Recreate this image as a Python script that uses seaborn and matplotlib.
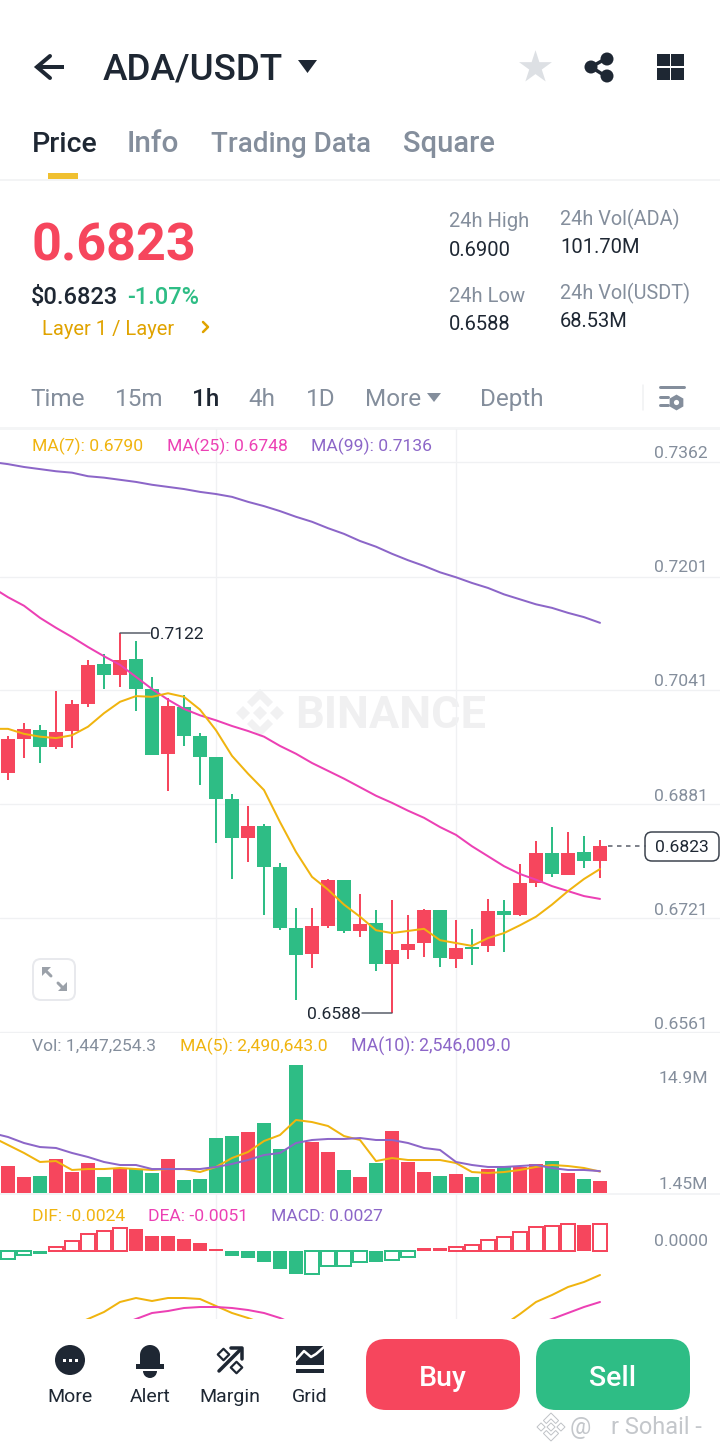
import matplotlib
matplotlib.use('Agg')
import matplotlib.pyplot as plt
from matplotlib.patches import Circle, FancyBboxPatch, Polygon, Rectangle, Wedge
import numpy as np
import seaborn as sns

# candles, oldest first
opens = [.6925, .6973, .6985, .6962, .6984, .7022, .7078, .7063, .7085, .7043, .6952, .7018, .6977, .6947, .6888, .6834, .6850, .6793, .6707, .6671, .6710, .6775, .6703, .6714, .6657, .6676, .6686, .6732, .6664, .6680, .6682, .6731, .6725, .6770, .6812, .6782, .6814, .6801]
highs = [.6977, .6995, .6992, .7040, .7028, .7084, .7092, .7122, .7110, .7060, .7030, .7035, .6981, .6947, .6895, .6879, .6853, .6799, .6735, .6735, .6776, .6775, .6755, .6732, .6746, .6725, .6734, .6732, .6718, .6706, .6748, .6746, .6797, .6829, .6849, .6842, .6836, .6831]
lows = [.6915, .6946, .6939, .6959, .6960, .7018, .7043, .7046, .7012, .6950, .6900, .6963, .6908, .6827, .6776, .6800, .6725, .6704, .6606, .6651, .6707, .6700, .6695, .6647, .6588, .6664, .6666, .6652, .6651, .6655, .6673, .6673, .6724, .6765, .6779, .6782, .6792, .6777]
closes = [.6973, .6987, .6962, .6983, .7022, .7077, .7063, .7084, .7043, .6950, .7019, .6977, .6947, .6888, .6834, .6850, .6793, .6707, .6669, .6710, .6775, .6703, .6713, .6657, .6676, .6685, .6732, .6665, .6679, .6678, .6731, .6725, .6770, .6812, .6783, .6812, .6801, .6823]

# moving averages start one candle before the left edge
ma7 = [.6987, .6987, .6980, .6976, .6974, .6978, .6990, .7009, .7025, .7033, .7032, .7037, .7032, .7014, .6985, .6949, .6924, .6901, .6856, .6814, .6779, .6761, .6740, .6723, .6704, .6700, .6703, .6706, .6690, .6686, .6682, .6693, .6700, .6711, .6723, .6740, .6759, .6776, .6790]
ma25 = [.7186, .7172, .7160, .7143, .7129, .7116, .7102, .7089, .7077, .7060, .7043, .7028, .7015, .7006, .6999, .6991, .6984, .6976, .6963, .6952, .6939, .6928, .6917, .6905, .6893, .6883, .6872, .6862, .6849, .6838, .6822, .6808, .6794, .6783, .6775, .6766, .6759, .6752, .6748]
ma99 = [.7362, .7359, .7355, .7352, .7349, .7347, .7342, .7340, .7337, .7334, .7330, .7327, .7324, .7320, .7317, .7313, .7306, .7300, .7293, .7285, .7278, .7269, .7261, .7251, .7243, .7233, .7224, .7216, .7207, .7200, .7192, .7185, .7176, .7169, .7162, .7157, .7150, .7144, .7136]

price_ticks = [.7362, .7201, .7041, .6881, .6721, .6561]

# volume in millions
volumes = [3.14, 1.86, 1.98, 3.96, 2.44, 3.49, 1.86, 2.79, 2.79, 2.33, 3.96, 1.51, 1.63, 6.40, 6.64, 7.10, 8.15, 5.12, 14.9, 5.94, 4.77, 2.68, 1.86, 3.49, 7.22, 3.61, 2.44, 1.98, 2.21, 1.86, 2.79, 3.03, 3.03, 3.38, 3.73, 2.33, 1.63, 1.447]
vol_ma5 = [6.52, 5.59, 4.66, 3.61, 3.72, 2.68, 2.79, 2.79, 2.91, 2.79, 2.68, 2.79, 2.79, 2.44, 3.03, 4.07, 4.77, 6.05, 6.75, 8.50, 8.26, 7.80, 6.63, 6.17, 3.72, 4.07, 3.84, 3.84, 3.84, 3.49, 2.44, 2.33, 2.44, 2.68, 3.03, 3.26, 3.14, 2.91, 2.49]
vol_ma10 = [6.98, 6.52, 5.82, 5.35, 5.24, 4.66, 4.19, 3.61, 3.26, 3.26, 2.79, 2.79, 2.79, 2.79, 3.03, 3.38, 3.84, 4.42, 4.66, 5.82, 6.17, 6.29, 6.29, 6.40, 6.17, 6.17, 5.82, 5.24, 5.01, 3.61, 3.26, 3.03, 3.03, 3.14, 3.26, 2.91, 2.68, 2.68, 2.546]

macd = [-.0008, -.00035, -.00027, .0004, .0010, .0017, .0020, .0023, .0022, .0015, .0015, .0012, .0008, .00025, -.00045, -.0007, -.0011, -.0018, -.0023, -.0023, -.0015, -.0015, -.0011, -.0011, -.0009, -.0006, .0003, .0003, .0004, .0006, .0011, .0014, .0019, .0024, .0025, .0027, .0026, .0027]
macd_hollow = [1, 1, 0, 1, 1, 1, 1, 1, 0, 0, 0, 0, 0, 0, 0, 0, 0, 0, 0, 1, 1, 1, 1, 0, 1, 1, 0, 0, 1, 1, 1, 1, 1, 1, 1, 1, 0, 1]

# only these stretches of DIF and DEA show inside the pane
dif_idx_a = [4, 5, 6, 7, 8, 9, 10, 11, 12, 13, 14, 15, 16]
dif_a = [-.0075, -.0068, -.0061, -.0051, -.0047, -.0050, -.0047, -.0047, -.0048, -.0055, -.0062, -.0067, -.0073]
dif_idx_b = [31, 32, 33, 34, 35, 36, 37]
dif_b = [-.0074, -.0063, -.0051, -.0044, -.0036, -.0031, -.0024]
dea_idx_a = [7, 8, 9, 10, 11, 12, 13, 14, 15, 16, 17, 18]
dea_a = [-.0074, -.0068, -.0062, -.0060, -.0057, -.0056, -.0056, -.0057, -.0059, -.0062, -.0067, -.0074]
dea_idx_b = [33, 34, 35, 36, 37]
dea_b = [-.0074, -.0068, -.0062, -.0056, -.0051]

RED = '#F6465D'
GREEN = '#2EBD85'
YELLOW = '#F0B40F'
PINK = '#EC40B4'
PURPLE = '#8C66C8'
DARK = '#1E2733'
GRAY = '#848E9C'
GRID = '#F0F1F3'

W, H = 720, 1448
PX = 72 / 100  # one pixel in points

sns.set_theme(style='white')
plt.rcParams['font.family'] = ['Roboto', 'DejaVu Sans']

fig = plt.figure(figsize=(W / 100, H / 100), dpi=100, facecolor='white')

# pixel space for all the app chrome
ui = fig.add_axes([0, 0, 1, 1], zorder=0)
ui.set_xlim(0, W)
ui.set_ylim(H, 0)
ui.axis('off')

# captions go over the grid lines
top = fig.add_axes([0, 0, 1, 1], zorder=2)
top.set_xlim(0, W)
top.set_ylim(H, 0)
top.axis('off')


def pane(y0, y1, ylim, yticks=()):
    ax = fig.add_axes([0, 1 - y1 / H, 1, (y1 - y0) / H], zorder=1)
    ax.patch.set_alpha(0)
    sns.despine(ax=ax, left=True, bottom=True)
    ax.set_xlim(-0.5, 44.5)
    ax.set_ylim(*ylim)
    ax.set_xticks([13, 28])
    ax.set_yticks(list(yticks))
    ax.set_xticklabels([])
    ax.set_yticklabels([])
    ax.tick_params(length=0)
    ax.grid(True, color=GRID, lw=1.3 * PX)
    ax.set_axisbelow(True)
    return ax


def label(x, y, s, color=DARK, size=12.5, weight='normal', ha='left', **kw):
    return top.text(x, y + 1.5, s, color=color, fontsize=size, fontweight=weight, ha=ha, va='center', **kw)


def logo(cx, cy, r, color, fill=True):
    # five piece diamond mark
    s = r / 24
    pieces = [
        [(0, -7), (7, 0), (0, 7), (-7, 0)],
        [(-24, 0), (-17, -7), (-10, 0), (-17, 7)],
        [(24, 0), (17, -7), (10, 0), (17, 7)],
        [(0, -24), (13, -11), (8, -6), (0, -14), (-8, -6), (-13, -11)],
        [(0, 24), (13, 11), (8, 6), (0, 14), (-8, 6), (-13, 11)],
    ]
    for p in pieces:
        pts = [(cx + a * s, cy + b * s) for a, b in p]
        ui.add_patch(Polygon(pts, closed=True, fc=color if fill else 'none', ec=color, lw=0.7 if not fill else 0))


# header
ui.plot([36, 64], [67, 67], color=DARK, lw=4 * PX, solid_capstyle='butt')
ui.plot([50, 37, 50], [56, 67, 78], color=DARK, lw=4 * PX, solid_joinstyle='miter')
label(103, 69, 'ADA/USDT', size=26.6, weight='medium')
ui.add_patch(Polygon([(298, 60), (317, 60), (307.5, 73)], fc=DARK, lw=0))
ui.scatter([535], [67], marker='*', s=620, color='#DDE0E4', lw=0)
ui.plot([607, 591, 607], [58, 67, 77], color=DARK, lw=3.5 * PX)
for cx, cy, r in [(607, 59, 6.5), (591, 67, 6.5), (607, 76, 6.5)]:
    ui.add_patch(Circle((cx, cy), r, fc=DARK, lw=0))
for x0, y0 in [(657, 54), (671, 54), (657, 68), (671, 68)]:
    ui.add_patch(Rectangle((x0, y0), 13, 12, fc=DARK, lw=0))

# tabs
label(32, 143, 'Price', size=20.5, weight='medium')
label(127, 143, 'Info', color=GRAY, size=21.5, weight='medium')
label(211, 143, 'Trading Data', color=GRAY, size=20, weight='medium')
label(403, 143, 'Square', color=GRAY, size=21, weight='medium')
ui.add_patch(Rectangle((48, 173), 30, 6, fc='#F0C030', lw=0))
ui.plot([0, W], [179.5, 179.5], color=GRID, lw=1.5 * PX)

# price block
label(32, 245, '0.6823', color=RED, size=37.5, weight='bold')
label(31, 296, '$0.6823', size=17, weight='medium')
label(127, 296, '-1.07%', color=GREEN, size=17, weight='medium')
label(42, 328, 'Layer 1 / Layer', color='#E0A300', size=14.5)
ui.plot([203, 208, 203], [322, 327, 332], color='#E0A300', lw=2.5 * PX)
label(449, 220, '24h High', color=GRAY, size=14.5)
label(449, 249, '0.6900', size=14.5)
label(560, 218, '24h Vol(ADA)', color=GRAY, size=14.3)
label(560, 246, '101.70M', size=14.5)
label(449, 295, '24h Low', color=GRAY, size=14.5)
label(449, 323, '0.6588', size=14.5)
label(560, 292, '24h Vol(USDT)', color=GRAY, size=14.3)
label(560, 320, '68.53M', size=14.5)

# interval bar
for x, s, c in [(30, 'Time', GRAY), (115, '15m', GRAY), (192, '1h', DARK), (248, '4h', GRAY),
                (306, '1D', GRAY), (365, 'More', GRAY), (480, 'Depth', GRAY)]:
    label(x, 398, s, color=c, size=17.5, weight='medium' if s == '1h' else 'normal')
ui.add_patch(Polygon([(427, 393), (441, 393), (434, 402)], fc=GRAY, lw=0))
ui.plot([642.5, 642.5], [385, 410], color=GRID, lw=1.5 * PX)
ui.plot([660, 684], [387, 387], color=GRAY, lw=3 * PX)
ui.plot([660, 668], [397, 397], color=GRAY, lw=3 * PX)
ui.plot([660, 668], [405, 405], color=GRAY, lw=3 * PX)
ui.scatter([676], [402], marker='h', s=130, color=GRAY, lw=0)
ui.scatter([676], [402], marker='o', s=14, color='white', lw=0)
ui.add_patch(Rectangle((0, 427), W, 3, fc='#F4F5F6', lw=0))

# indicator captions
label(32, 445, 'MA(7): 0.6790', color=YELLOW, size=12.6)
label(167, 445, 'MA(25): 0.6748', color=PINK, size=12.6)
label(311, 445, 'MA(99): 0.7136', color=PURPLE, size=12.6)
label(32, 1045, 'Vol: 1,447,254.3', color=GRAY, size=12.6)
label(180, 1045, 'MA(5): 2,490,643.0', color=YELLOW, size=12.6)
label(351, 1045, 'MA(10): 2,546,009.0', color=PURPLE, size=12.8)
label(32, 1215, 'DIF: -0.0024', color=YELLOW, size=12.6)
label(148, 1215, 'DEA: -0.0051', color=PINK, size=12.6)
label(271, 1215, 'MACD: 0.0027', color=PURPLE, size=12.6)

# axis captions
for y, s in [(452, '0.7362'), (566, '0.7201'), (680, '0.7041'), (795, '0.6881'), (909, '0.6721'), (1023, '0.6561')]:
    label(708, y, s, color=GRAY, size=12.6, ha='right')
label(708, 1077, '14.9M', color=GRAY, size=12.6, ha='right')
label(708, 1183, '1.45M', color=GRAY, size=12.6, ha='right')
label(708, 1240, '0.0000', color=GRAY, size=12.6, ha='right')

# watermark sits under the candles
logo(260, 713, 24, '#F1F1F2')
ui.text(295, 716, 'BINANCE', color='#F0F0F1', fontsize=32.5, fontweight='bold', ha='left', va='center')

# expand button
ui.add_patch(FancyBboxPatch((33, 959), 42, 41, boxstyle='round,pad=0,rounding_size=8', fc='white', ec='#E8E9ED', lw=2 * PX))
ui.plot([45, 51], [970, 976], color='#9BA1A9', lw=3 * PX)
ui.plot([58, 64], [983, 989], color='#9BA1A9', lw=3 * PX)
ui.add_patch(Polygon([(42, 967), (51, 967), (42, 976)], fc='#9BA1A9', lw=0))
ui.add_patch(Polygon([(67, 991), (58, 991), (67, 982)], fc='#9BA1A9', lw=0))

# candles
idx = np.arange(len(opens))
ma_idx = np.arange(-1, len(opens))
px_per_price = 1 / 0.00014053
ax_price = pane(429, 1033, (.7362 - (1033 - 462) / px_per_price, .7362 + (462 - 429) / px_per_price), price_ticks)
candle_colors = [RED if c >= o else GREEN for o, c in zip(opens, closes)]
ax_price.vlines(idx, lows, highs, colors=candle_colors, lw=2 * PX, zorder=2)
ax_price.bar(idx, np.array(closes) - np.array(opens), bottom=opens, width=0.875, color=candle_colors, lw=0, zorder=3)
sns.lineplot(x=ma_idx, y=ma99, color=PURPLE, lw=2 * PX, ax=ax_price, zorder=4)
sns.lineplot(x=ma_idx, y=ma25, color=PINK, lw=2 * PX, ax=ax_price, zorder=4)
sns.lineplot(x=ma_idx, y=ma7, color=YELLOW, lw=2 * PX, ax=ax_price, zorder=4)
ax_price.set_xlim(-0.5, 44.5)

# high / low callouts and the last price marker
ax_price.plot([7, 8.85], [.7122, .7122], color='#555B66', lw=1.5 * PX, zorder=4)
ax_price.annotate('0.7122', (8.9, .7122), xytext=(0, -2 * PX), textcoords='offset points',
                  color=DARK, fontsize=12.6, va='center', ha='left')
ax_price.plot([22.15, 24], [.6588, .6588], color='#555B66', lw=1.5 * PX, zorder=4)
ax_price.annotate('0.6588', (22.05, .6588), xytext=(0, -2 * PX), textcoords='offset points',
                  color=DARK, fontsize=12.6, va='center', ha='right')
ax_price.plot([37.5, 39.85], [.6823, .6823], color='#555B66', lw=1.5 * PX, ls=(0, (3, 3)), zorder=4)
ui.add_patch(FancyBboxPatch((645, 832), 74, 29, boxstyle='round,pad=0,rounding_size=7', fc='white', ec='#3A414C', lw=1.5 * PX))
label(682, 846.5, '0.6823', size=12.6, ha='center')

# volume
ax_vol = pane(1033, 1193, (0, 14.9 * 160 / 128))
vol_dir = ['up' if c >= o else 'down' for o, c in zip(opens, closes)]
sns.barplot(x=idx, y=volumes, hue=vol_dir, palette={'up': RED, 'down': GREEN}, native_scale=True,
            dodge=False, width=0.875, saturation=1, legend=False, lw=0, ax=ax_vol)
sns.lineplot(x=ma_idx, y=vol_ma5, color=YELLOW, lw=2 * PX, ax=ax_vol)
sns.lineplot(x=ma_idx, y=vol_ma10, color=PURPLE, lw=2 * PX, ax=ax_vol)
ax_vol.set_xlim(-0.5, 44.5)
ax_vol.set_ylim(0, 14.9 * 160 / 128)
ax_vol.set_xticks([13, 28])
ax_vol.set_yticks([])
ax_vol.set_xticklabels([])
ax_vol.set_xlabel('')
ax_vol.set_ylabel('')
ui.add_patch(Rectangle((0, 1192.5), W, 2, fc='#F3F4F6', lw=0))

# MACD pane, 1 px is 0.0001
ax_macd = pane(1194, 1319, (-.0068, .0057))
for i, v, hollow in zip(idx, macd, macd_hollow):
    col = RED if v >= 0 else GREEN
    if hollow:
        ax_macd.bar(i, v, width=0.82, facecolor='white', edgecolor=col, lw=2 * PX, zorder=3)
    else:
        ax_macd.bar(i, v, width=0.875, color=col, lw=0, zorder=3)
for xs, ys, col in [(dif_idx_a, dif_a, YELLOW), (dif_idx_b, dif_b, YELLOW), (dea_idx_a, dea_a, PINK), (dea_idx_b, dea_b, PINK)]:
    sns.lineplot(x=xs, y=ys, color=col, lw=2 * PX, ax=ax_macd)
ax_macd.set_xlim(-0.5, 44.5)

# bottom bar
ui.add_patch(Circle((70, 1360), 15, fc=DARK, lw=0))
for x in (64, 70, 76):
    ui.add_patch(Rectangle((x - 1.5, 1358.5), 3, 3, fc='white', lw=0))
ui.add_patch(Wedge((150, 1355), 10, 180, 360, fc=DARK, lw=0))
ui.add_patch(Rectangle((140, 1355), 20, 11, fc=DARK, lw=0))
ui.add_patch(Rectangle((136, 1364), 28, 5, fc=DARK, lw=0))
ui.add_patch(Wedge((150, 1371), 7, 0, 180, fc=DARK, lw=0))
ui.plot([219, 241], [1371, 1349], color=DARK, lw=3.5 * PX)
ui.plot([231, 242, 242], [1348, 1348, 1359], color=DARK, lw=3.5 * PX)
ui.scatter([223, 236], [1354, 1367], marker='D', s=34, fc='white', ec=DARK, lw=1.6)
ui.add_patch(Rectangle((296, 1346), 28, 19, fc=DARK, lw=0))
ui.plot([296, 304, 311, 316, 324], [1360, 1351, 1357, 1354, 1347], color='white', lw=2.5 * PX)
ui.add_patch(Rectangle((296, 1369), 28, 4, fc=DARK, lw=0))
for x, s in [(70, 'More'), (150, 'Alert'), (230, 'Margin'), (310, 'Grid')]:
    label(x, 1396, s, size=14, ha='center')

ui.add_patch(FancyBboxPatch((366, 1339), 154, 71, boxstyle='round,pad=0,rounding_size=20', fc=RED, lw=0))
ui.add_patch(FancyBboxPatch((536, 1339), 154, 71, boxstyle='round,pad=0,rounding_size=20', fc=GREEN, lw=0))
label(443, 1377, 'Buy', color='white', size=20.5, weight='medium', ha='center')
label(613, 1377, 'Sell', color='white', size=20.5, weight='medium', ha='center')

# repost watermark
logo(551, 1427, 14, '#BFC2C6', fill=False)
label(570, 1426, '@', color='#C4C7CB', size=17)
label(611, 1426, 'r Sohail -', color='#C4C7CB', size=17)

fig.savefig('out.png', dpi=100, facecolor='white')
